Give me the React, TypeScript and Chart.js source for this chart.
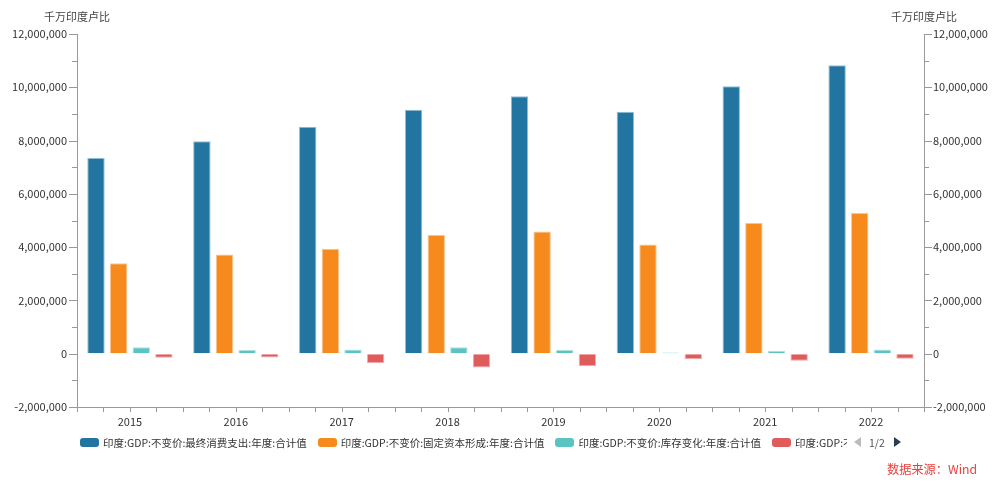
import React, { useEffect, useRef } from "react";
import { Chart, registerables } from "chart.js";

Chart.register(...registerables);

const years = ["2015", "2016", "2017", "2018", "2019", "2020", "2021", "2022"];
const consumption = [7350000, 7970000, 8520000, 9160000, 9660000, 9080000, 10040000, 10830000];
const capitalFormation = [3400000, 3720000, 3940000, 4460000, 4590000, 4100000, 4910000, 5280000];
const inventoryChange = [240000, 140000, 160000, 240000, 140000, 50000, 110000, 160000];
const fourthSeries = [-150000, -140000, -360000, -520000, -470000, -210000, -260000, -190000];

const seriesNames = [
  "印度:GDP:不变价:最终消费支出:年度:合计值",
  "印度:GDP:不变价:固定资本形成:年度:合计值",
  "印度:GDP:不变价:库存变化:年度:合计值",
  "印度:GDP:不变价:净出口:年度:合计值",
];
const seriesColors = ["#2275a0", "#f68a1d", "#5cc3c3", "#e05b5b"];
const seriesBorders = ["#8fbfd8", "#fbc48e", "#ade1e1", "#f0adad"];
const axisTitle = "千万印度卢比";
const sourceText = "数据来源：Wind";

const FONT = '"Noto Sans CJK SC", "Noto Sans", sans-serif';

const decorPlugin = {
  id: "decor",
  afterDraw(chart: any) {
    const ctx = chart.ctx;
    const x = chart.scales.x;
    const y = chart.scales.y;
    const y2 = chart.scales.y2;
    ctx.save();
    ctx.strokeStyle = "#999";
    ctx.lineWidth = 1;
    const w = x.getPixelForValue(1) - x.getPixelForValue(0);
    const start = x.getPixelForValue(0) - w / 2;
    const n = years.length * 4;
    for (let k = 0; k <= n; k++) {
      const px = Math.round(start + (k * w) / 4) + 0.5;
      ctx.beginPath();
      ctx.moveTo(px, y.bottom);
      ctx.lineTo(px, y.bottom + 5);
      ctx.stroke();
    }
    y.ticks.forEach((t: any) => {
      const py = Math.round(y.getPixelForValue(t.value)) + 0.5;
      const major = Math.round(t.value / 1000000) % 2 === 0;
      const len = major ? 8 : 5;
      ctx.beginPath();
      ctx.moveTo(y.right - len, py);
      ctx.lineTo(y.right, py);
      ctx.stroke();
      ctx.beginPath();
      ctx.moveTo(y2.left, py);
      ctx.lineTo(y2.left + len, py);
      ctx.stroke();
    });
    ctx.fillStyle = "#444";
    ctx.font = `11px ${FONT}`;
    ctx.textAlign = "center";
    ctx.textBaseline = "middle";
    ctx.fillText(axisTitle, y.right, 17);
    ctx.fillText(axisTitle, y2.left, 17);
    ctx.restore();
  },
};

export default function App() {
  const canvasRef = useRef<HTMLCanvasElement | null>(null);

  useEffect(() => {
    if (!canvasRef.current) return;
    Chart.defaults.font.family = FONT;
    const data = [consumption, capitalFormation, inventoryChange, fourthSeries];
    const chart = new Chart(canvasRef.current, {
      type: "bar",
      data: {
        labels: years,
        datasets: data.map((d, i) => ({
          label: seriesNames[i],
          data: d,
          backgroundColor: seriesColors[i],
          borderColor: seriesBorders[i],
          borderWidth: 1,
          categoryPercentage: 0.855,
          barPercentage: 0.77,
        })),
      },
      options: {
        responsive: false,
        animation: false,
        layout: { padding: { left: 0, right: 0, top: 34, bottom: 49 } },
        plugins: {
          legend: { display: false },
          tooltip: { enabled: false },
        },
        scales: {
          x: {
            grid: {
              display: true,
              drawOnChartArea: false,
              drawTicks: true,
              tickLength: 5,
              color: "rgba(0,0,0,0)",
            },
            border: { display: true, color: "#999", width: 1 },
            ticks: { color: "#333", font: { size: 11 }, padding: 3, maxRotation: 0 },
            afterFit: (s: any) => {
              s.height = 30;
            },
          },
          y: {
            position: "left",
            min: -2000000,
            max: 12000000,
            grid: { display: true, drawOnChartArea: false, drawTicks: false, color: "rgba(0,0,0,0)" },
            border: { display: true, color: "#999", width: 1 },
            ticks: {
              stepSize: 1000000,
              color: "#333",
              font: { size: 11 },
              padding: 10,
              callback: (v: any) =>
                Math.round(v / 1000000) % 2 === 0 ? Number(v).toLocaleString("en-US") : "",
            },
            afterFit: (s: any) => {
              s.width = 77;
            },
          },
          y2: {
            position: "right",
            min: -2000000,
            max: 12000000,
            grid: { display: true, drawOnChartArea: false, drawTicks: false, color: "rgba(0,0,0,0)" },
            border: { display: true, color: "#999", width: 1 },
            ticks: {
              stepSize: 1000000,
              color: "#333",
              font: { size: 11 },
              padding: 9,
              callback: (v: any) =>
                Math.round(v / 1000000) % 2 === 0 ? Number(v).toLocaleString("en-US") : "",
            },
            afterFit: (s: any) => {
              s.width = 76;
            },
          },
        },
      },
      plugins: [decorPlugin],
    });
    return () => chart.destroy();
  }, []);

  const legendText: React.CSSProperties = {
    fontFamily: FONT,
    fontSize: 10.5,
    color: "#333",
    whiteSpace: "nowrap",
  };

  return (
    <div
      style={{
        position: "fixed",
        left: 0,
        top: 0,
        width: 1000,
        height: 486,
        background: "#fff",
        overflow: "hidden",
      }}
    >
      <canvas ref={canvasRef} width={1000} height={486} style={{ position: "absolute", left: 0, top: 0 }} />
      <div
        style={{
          position: "absolute",
          left: 80,
          top: 432,
          width: 767,
          height: 20,
          overflow: "hidden",
          display: "flex",
          alignItems: "center",
          whiteSpace: "nowrap",
        }}
      >
        {seriesNames.map((name, i) => (
          <div key={i} style={{ display: "flex", alignItems: "center", marginRight: 11, flexShrink: 0 }}>
            <div
              style={{
                width: 19,
                height: 9,
                borderRadius: 3,
                background: seriesColors[i],
                marginRight: 4,
              }}
            />
            <span style={legendText}>{name}</span>
          </div>
        ))}
      </div>
      <div
        style={{
          position: "absolute",
          left: 854,
          top: 432,
          height: 20,
          display: "flex",
          alignItems: "center",
          ...legendText,
        }}
      >
        <div
          style={{
            width: 0,
            height: 0,
            borderTop: "5px solid transparent",
            borderBottom: "5px solid transparent",
            borderRight: "7px solid #bbb",
            marginRight: 8,
          }}
        />
        <span style={{ ...legendText, color: "#555" }}>1/2</span>
        <div
          style={{
            width: 0,
            height: 0,
            borderTop: "5px solid transparent",
            borderBottom: "5px solid transparent",
            borderLeft: "7px solid #2a3d52",
            marginLeft: 9,
          }}
        />
      </div>
      <div
        style={{
          position: "absolute",
          right: 23,
          top: 460,
          fontFamily: FONT,
          fontSize: 12.2,
          color: "#e8413c",
          whiteSpace: "nowrap",
        }}
      >
        {sourceText}
      </div>
    </div>
  );
}
